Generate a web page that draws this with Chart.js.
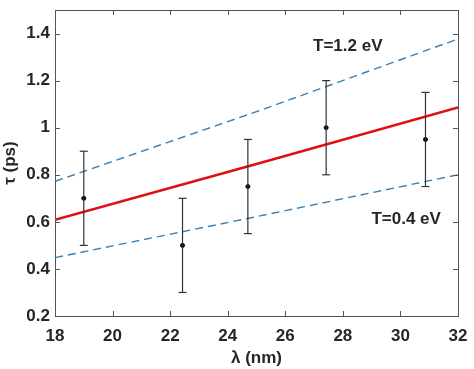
<!DOCTYPE html>
<html lang="en">
<head>
  <meta charset="UTF-8">
  <title>tau vs lambda</title>
  <style>
    html, body { margin: 0; padding: 0; background: #fff; }
    #wrap { width: 474px; height: 369px; }
  </style>
</head>
<body>
  <div id="wrap"><canvas id="chart" width="474" height="369"></canvas></div>

  <script src="https://cdn.jsdelivr.net/npm/chart.js"></script>
  <script>
    // measured points
    const lambdaNm = [19.0, 22.43, 24.7, 27.42, 30.87];
    const tauPs = [0.70, 0.50, 0.75, 1.00, 0.95];
    const tauErr = [0.20, 0.20, 0.20, 0.20, 0.20];

    // model curves
    const fitX = [18, 25, 32];
    const fitRed = [0.609, 0.846, 1.086];
    const highT = [0.772, 1.068, 1.377];
    const lowT = [0.448, 0.622, 0.800];

    const xTicks = [18, 20, 22, 24, 26, 28, 30, 32];
    const yTicks = [0.2, 0.4, 0.6, 0.8, 1, 1.2, 1.4];

    const labels = [
      { text: 'T=1.2 eV', x: 28.17, y: 1.344 },
      { text: 'T=0.4 eV', x: 30.2, y: 0.61 }
    ];

    const FONT = '"Liberation Sans", Arial, sans-serif';
    const INK = '#262626';

    function pts(xs, ys) {
      return xs.map((x, i) => ({ x: x, y: ys[i] }));
    }

    const datasets = [];
    // error bars, one small dataset per point, caps drawn as line point style
    lambdaNm.forEach((x, i) => {
      datasets.push({
        type: 'line',
        data: [{ x: x, y: tauPs[i] - tauErr[i] }, { x: x, y: tauPs[i] + tauErr[i] }],
        borderColor: '#333',
        borderWidth: 1.2,
        pointStyle: 'line',
        pointRadius: 4,
        pointBorderColor: '#333',
        pointBorderWidth: 1.2,
        pointHoverRadius: 0
      });
    });
    datasets.push({
      type: 'line',
      data: pts(fitX, highT),
      borderColor: '#3a80b2',
      borderWidth: 1.4,
      borderDash: [8, 5],
      pointRadius: 0
    });
    datasets.push({
      type: 'line',
      data: pts(fitX, lowT),
      borderColor: '#3a80b2',
      borderWidth: 1.4,
      borderDash: [8, 5],
      pointRadius: 0
    });
    datasets.push({
      type: 'line',
      data: pts(fitX, fitRed),
      borderColor: '#e01010',
      borderWidth: 2.6,
      pointRadius: 0
    });
    datasets.push({
      type: 'scatter',
      data: pts(lambdaNm, tauPs),
      backgroundColor: '#000',
      borderColor: '#000',
      pointRadius: 2
    });

    // MATLAB-like box with inward ticks, plus text labels
    const boxPlugin = {
      id: 'box',
      afterDatasetsDraw(chart) {
        const { ctx, chartArea: a, scales } = chart;
        const xs = scales.x, ys = scales.y;
        ctx.save();
        ctx.strokeStyle = '#555';
        ctx.lineWidth = 1;
        ctx.beginPath();
        xTicks.forEach(v => {
          const px = Math.round(xs.getPixelForValue(v)) + 0.5;
          ctx.moveTo(px, a.bottom); ctx.lineTo(px, a.bottom - 5);
          ctx.moveTo(px, a.top); ctx.lineTo(px, a.top + 5);
        });
        yTicks.forEach(v => {
          const py = Math.round(ys.getPixelForValue(v)) + 0.5;
          ctx.moveTo(a.left, py); ctx.lineTo(a.left + 5, py);
          ctx.moveTo(a.right, py); ctx.lineTo(a.right - 5, py);
        });
        ctx.stroke();
        ctx.strokeRect(Math.round(a.left) + 0.5, Math.round(a.top) + 0.5,
          Math.round(a.width), Math.round(a.height));

        ctx.fillStyle = INK;
        ctx.font = 'bold 17px ' + FONT;
        ctx.textAlign = 'center';
        ctx.textBaseline = 'middle';
        labels.forEach(l => {
          ctx.fillText(l.text, xs.getPixelForValue(l.x), ys.getPixelForValue(l.y));
        });
        ctx.restore();
      }
    };

    new Chart(document.getElementById('chart'), {
      type: 'scatter',
      data: { datasets: datasets },
      options: {
        responsive: false,
        animation: false,
        events: [],
        layout: { padding: { left: 0, right: 16, top: 10, bottom: 0 } },
        plugins: { legend: { display: false }, tooltip: { enabled: false } },
        scales: {
          x: {
            type: 'linear',
            min: 18,
            max: 32,
            afterBuildTicks: s => { s.ticks = xTicks.map(v => ({ value: v })); },
            afterFit: s => { s.height = 53; s.paddingLeft = 0; s.paddingRight = 0; },
            grid: { display: false, drawTicks: false },
            border: { display: false },
            ticks: {
              color: INK,
              font: { family: FONT, size: 17, weight: 'bold' },
              padding: 10,
              maxRotation: 0,
              callback: v => String(v)
            },
            title: {
              display: true,
              text: 'λ (nm)',
              color: INK,
              font: { family: FONT, size: 17, weight: 'bold' },
              padding: { top: 0, bottom: 0 }
            }
          },
          y: {
            type: 'linear',
            min: 0.2,
            max: 1.5,
            afterBuildTicks: s => { s.ticks = yTicks.map(v => ({ value: v })); },
            afterFit: s => { s.width = 55; s.paddingTop = 0; s.paddingBottom = 0; },
            grid: { display: false, drawTicks: false },
            border: { display: false },
            ticks: {
              color: INK,
              font: { family: FONT, size: 17, weight: 'bold' },
              padding: 5,
              callback: v => String(v)
            },
            title: {
              display: true,
              text: 'τ (ps)',
              color: INK,
              font: { family: FONT, size: 17, weight: 'bold' },
              padding: { top: 0, bottom: 0 }
            }
          }
        }
      },
      plugins: [boxPlugin]
    });
  </script>
</body>
</html>
